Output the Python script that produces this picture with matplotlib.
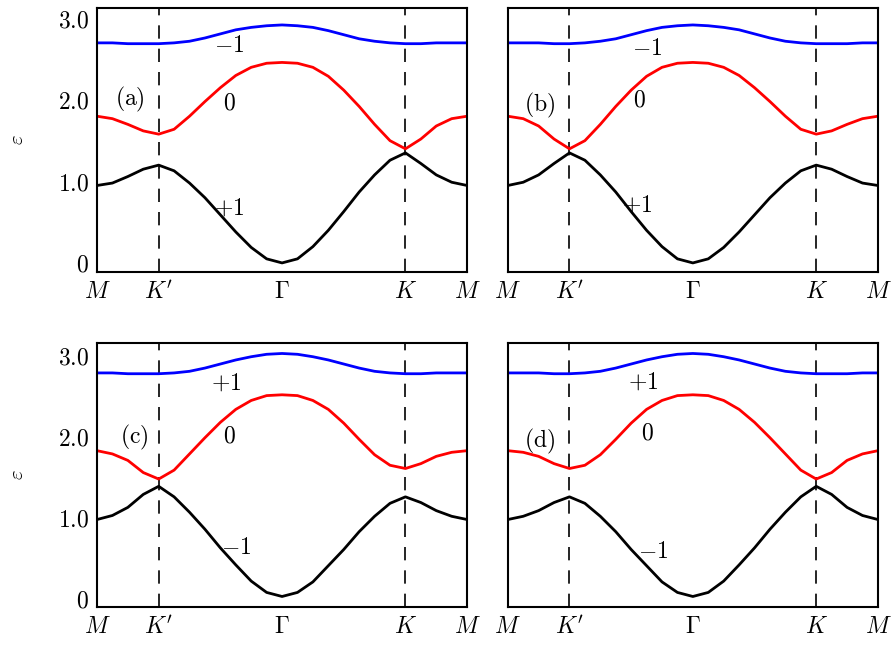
import numpy as np
import matplotlib.pyplot as plt

plt.rcParams['font.family'] = 'serif'
plt.rcParams['mathtext.fontset'] = 'cm'

# path coordinate: M=0, K'=1, Gamma=3, K=5, M=6 (sampled every 0.25)
k = np.arange(25) * 0.25
tick_pos = [0, 1, 3, 5, 6]
tick_lab = [r'$M$', r"$K'$", r'$\mathit{\Gamma}$', r'$K$', r'$M$']

black_a = [0.95, 0.98, 1.06, 1.15, 1.20, 1.13, 0.98, 0.80, 0.59, 0.38, 0.19, 0.05, 0.00,
           0.05, 0.20, 0.40, 0.63, 0.87, 1.08, 1.26, 1.35, 1.22, 1.08, 0.99, 0.95]
red_a = [1.80, 1.77, 1.70, 1.62, 1.58, 1.64, 1.80, 1.98, 2.15, 2.30, 2.40, 2.45, 2.46,
         2.45, 2.40, 2.29, 2.12, 1.92, 1.70, 1.50, 1.40, 1.52, 1.68, 1.77, 1.80]
blue_a = [2.70, 2.70, 2.69, 2.69, 2.69, 2.70, 2.72, 2.76, 2.81, 2.86, 2.89, 2.91, 2.92,
          2.91, 2.89, 2.85, 2.80, 2.75, 2.72, 2.70, 2.69, 2.69, 2.70, 2.70, 2.70]
black_c = [0.97, 1.02, 1.12, 1.28, 1.38, 1.25, 1.06, 0.85, 0.62, 0.41, 0.21, 0.07, 0.02,
           0.07, 0.20, 0.40, 0.60, 0.82, 1.01, 1.17, 1.25, 1.18, 1.08, 1.01, 0.97]
red_c = [1.82, 1.78, 1.70, 1.55, 1.47, 1.58, 1.78, 1.98, 2.17, 2.33, 2.44, 2.50, 2.51,
         2.50, 2.44, 2.33, 2.16, 1.96, 1.77, 1.64, 1.60, 1.66, 1.75, 1.80, 1.82]
blue_c = [2.78, 2.78, 2.77, 2.77, 2.77, 2.78, 2.80, 2.84, 2.89, 2.94, 2.98, 3.01, 3.02,
          3.01, 2.98, 2.94, 2.89, 2.84, 2.80, 2.78, 2.77, 2.77, 2.78, 2.78, 2.78]

panels = {
    'a': (black_a, red_a, blue_a),
    'b': (black_a[::-1], red_a[::-1], blue_a[::-1]),
    'c': (black_c, red_c, blue_c),
    'd': (black_c[::-1], red_c[::-1], blue_c[::-1]),
}
# band labels: (text, x, y)
labels = {
    'a': [(r'$-1$', 2.15, 2.67), (r'$0$', 2.15, 1.96), (r'$+1$', 2.15, 0.67), (r'$\mathrm{(a)}$', 0.53, 2.0)],
    'b': [(r'$-1$', 2.26, 2.63), (r'$0$', 2.13, 2.0), (r'$+1$', 2.1, 0.71), (r'$\mathrm{(b)}$', 0.52, 1.93)],
    'c': [(r'$+1$', 2.1, 2.65), (r'$0$', 2.15, 2.0), (r'$-1$', 2.25, 0.62), (r'$\mathrm{(c)}$', 0.6, 1.98)],
    'd': [(r'$+1$', 2.2, 2.67), (r'$0$', 2.26, 2.04), (r'$-1$', 2.36, 0.57), (r'$\mathrm{(d)}$', 0.52, 1.94)],
}
rects = {'a': [0.1085, 0.583, 0.414, 0.405], 'b': [0.568, 0.583, 0.414, 0.405],
         'c': [0.1085, 0.069, 0.414, 0.405], 'd': [0.568, 0.069, 0.414, 0.405]}

fig = plt.figure(figsize=(8.94, 6.52), dpi=100)
for p in 'abcd':
    ax = fig.add_axes(rects[p])
    bk, rd, bl = panels[p]
    for xv in (1, 5):
        ax.axvline(xv, color='k', ls=(0, (8, 6)), lw=1.2)
    for ys, c in ((bk, 'black'), (rd, '#ff0000'), (bl, '#0000ff')):
        ax.plot(k, ys, color=c, lw=2, solid_joinstyle='round')
    for t, x, y in labels[p]:
        ax.text(x, y, t, fontsize=17, ha='center', va='center')
    ax.set_xlim(0, 6)
    ax.set_ylim(-0.11, 3.13 if p in 'ab' else 3.15)
    ax.set_xticks(tick_pos)
    ax.set_xticklabels(tick_lab, fontsize=17)
    ax.set_yticks([0, 1, 2, 3])
    if p in 'ac':
        ax.set_yticklabels([r'$0$', r'$1.0$', r'$2.0$', r'$3.0$'], fontsize=17)
        ax.set_ylabel(r'$\varepsilon$', fontsize=15, labelpad=22)
    else:
        ax.set_yticklabels([])
    ax.tick_params(length=0, pad=6)
    for s in ax.spines.values():
        s.set_linewidth(1.5)

fig.savefig('out.png', dpi=100)
